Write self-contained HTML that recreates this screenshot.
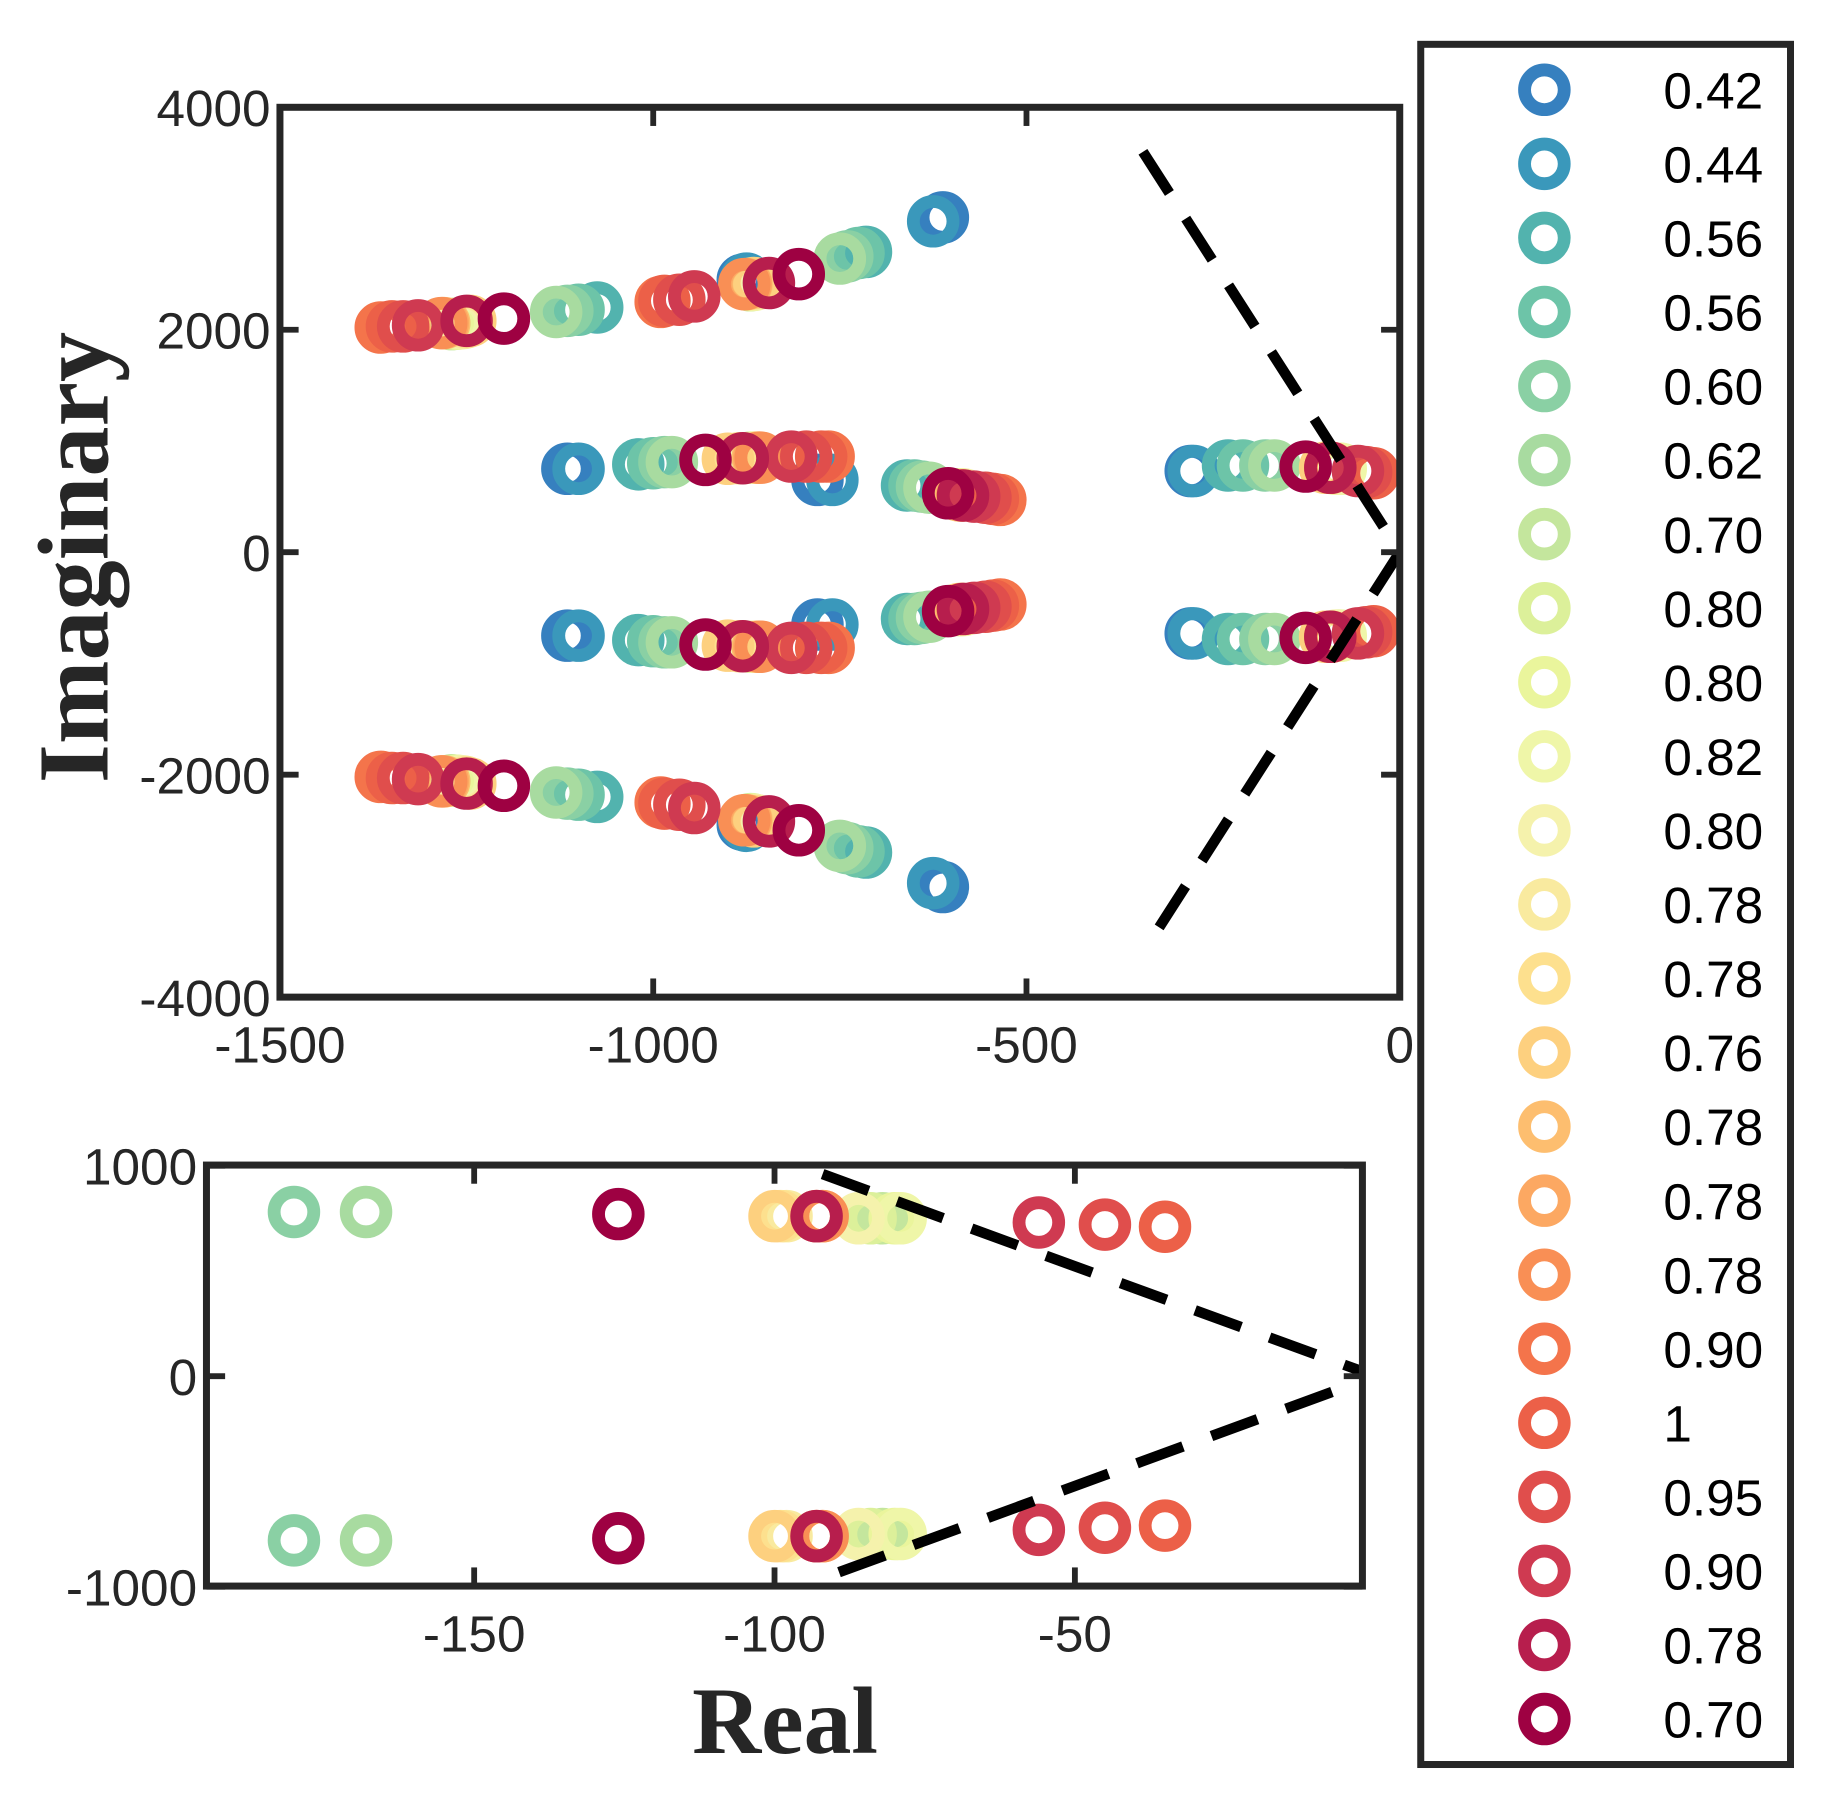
<!DOCTYPE html>
<html><head><meta charset="utf-8"><style>
html,body{margin:0;padding:0;background:#fff;overflow:hidden;width:1829px;height:1803px;}
svg{display:block;}
text{font-family:"Liberation Sans",sans-serif;}
</style></head><body>
<svg width="1829" height="1803" viewBox="0 0 1568 1546" preserveAspectRatio="none" xmlns="http://www.w3.org/2000/svg">
<defs>
<clipPath id="clipTop"><rect x="240" y="92" width="960" height="763"/></clipPath>
<clipPath id="clipBot"><rect x="177" y="999" width="991" height="361"/></clipPath>
</defs>
<g id="top"></g>
<g id="bot"></g>
<text x="0" y="0" transform="translate(92,478) rotate(-90)" text-anchor="middle" style="font-family:'Liberation Serif',serif;font-weight:bold;font-size:86px;fill:#262626">Imaginary</text>
<text x="673" y="1503" text-anchor="middle" style="font-family:'Liberation Serif',serif;font-weight:bold;font-size:82px;fill:#262626">Real</text>
<g id="legend"></g>
</svg>
<script>
const NS="http://www.w3.org/2000/svg";
const seriesLabels=["0.42","0.44","0.56","0.56","0.60","0.62","0.70","0.80","0.80","0.82","0.80","0.78","0.78","0.76","0.78","0.78","0.78","0.90","1","0.95","0.90","0.78","0.70"];
const seriesColors=["#3680bf","#3a98bb","#52b3ae","#6dc4a8","#8ad0a4","#a8dba0","#c4e69d","#dcf09a","#eaf59c","#eff6a8","#f5f2ac","#f9ea9f","#fde08e","#fdd07f","#fdbe6f","#fca862","#f98f55","#f4744b","#ec6048","#e04e4c","#cf3a51","#b71e4d","#9e0142"];
// pole pairs (upper half, mirrored): 5 poles per series
const poleReal=[
 [-612,-880,-1115,-780,-280],
 [-625,-875,-1100,-760,-276],
 [-715,-1075,-1020,-660,-230],
 [-725,-1100,-1000,-650,-210],
 [-740,-1115,-985,-640,-180],
 [-750,-1130,-975,-630,-168],
 [-870,-1270,-870,-590,-82],
 [-868,-1265,-868,-590,-84],
 [-866,-1262,-866,-588,-80],
 [-864,-1258,-864,-586,-79],
 [-862,-1255,-862,-584,-86],
 [-866,-1252,-880,-590,-98],
 [-868,-1250,-885,-592,-99],
 [-865,-1245,-900,-590,-100],
 [-875,-1280,-860,-588,-93],
 [-876,-1282,-858,-586,-92],
 [-878,-1284,-856,-584,-92],
 [-990,-1365,-765,-535,-93],
 [-985,-1350,-775,-545,-35],
 [-965,-1335,-795,-555,-45],
 [-945,-1315,-815,-570,-56],
 [-845,-1250,-880,-585,-93],
 [-805,-1200,-930,-605,-126]];
const poleImag=[
 [3010,2450,750,650,730],
 [2975,2460,750,650,730],
 [2700,2200,790,600,780],
 [2690,2180,800,600,780],
 [2660,2170,810,590,780],
 [2640,2160,810,580,780],
 [2400,2050,850,520,750],
 [2400,2055,850,520,750],
 [2405,2055,850,520,750],
 [2405,2060,850,520,750],
 [2410,2060,850,520,750],
 [2410,2065,845,515,760],
 [2415,2070,845,515,760],
 [2420,2080,840,510,760],
 [2410,2060,850,510,760],
 [2410,2060,850,510,760],
 [2410,2060,850,510,760],
 [2250,2020,860,470,760],
 [2260,2030,860,480,710],
 [2270,2030,860,490,720],
 [2300,2040,860,500,730],
 [2420,2080,845,510,760],
 [2500,2100,830,530,770]];
const topXTicks=[-1500,-1000,-500,0];
const topYTicks=[4000,2000,0,-2000,-4000];
const botXTicks=[-150,-100,-50];
const botYTicks=[1000,0,-1000];
const topDash=[[-344,3600],[0,0],[-344,-3600]];
const botDash=[[-92,960],[0,0],[-92,-960]];

function mk(tag,attrs,parent){const e=document.createElementNS(NS,tag);for(const k in attrs)e.setAttribute(k,attrs[k]);parent.appendChild(e);return e;}
const AX="#262626";
function drawAxes(g,clip,L,T,R,B,xs,ys,xTicks,yTicks,xLab,yLab,dash){
  const pts=mk('g',{'clip-path':'url(#'+clip+')'},g);
  
  
  for(let s=0;s<seriesColors.length;s++){
    const sg=mk('g',{},pts);
    
    
    for(let p=0;p<poleReal[s].length;p++){
      for(const sign of [1,-1]){
        const c=mk('circle',{cx:xs(poleReal[s][p]),cy:ys(sign*poleImag[s][p]),r:17,fill:'none',stroke:seriesColors[s],'stroke-width':11},sg);
        
        
      }
    }
  }
  const d=mk('polyline',{points:dash.map(q=>xs(q[0])+','+ys(q[1])).join(' '),fill:'none',stroke:'#000','stroke-width':9,'stroke-dasharray':'42 26','clip-path':'url(#'+clip+')'},g);
  
  
  const fr=mk('rect',{x:L,y:T,width:R-L,height:B-T,fill:'none',stroke:AX,'stroke-width':6},g);
  
  
  xTicks.forEach(v=>{const x=xs(v);
    mk('line',{x1:x,x2:x,y1:B,y2:B-16,stroke:AX,'stroke-width':5},g);
    mk('line',{x1:x,x2:x,y1:T,y2:T+16,stroke:AX,'stroke-width':5},g);
    const t=mk('text',{x:x,y:B+56,'text-anchor':'middle','font-size':44,fill:AX},g);t.textContent=xLab(v);
    
    });
  yTicks.forEach(v=>{const y=ys(v);
    mk('line',{x1:L,x2:L+16,y1:y,y2:y,stroke:AX,'stroke-width':5},g);
    mk('line',{x1:R,x2:R-16,y1:y,y2:y,stroke:AX,'stroke-width':5},g);
    const t=mk('text',{x:L-8,y:y+16,'text-anchor':'end','font-size':44,fill:AX},g);t.textContent=yLab(v);
    
    });
}
const tL=240,tR=1200,tT=92,tB=855;
const txs=v=>tL+(v+1500)/1500*(tR-tL);
const tys=v=>tT+(4000-v)/8000*(tB-tT);
drawAxes(document.getElementById('top'),'clipTop',tL,tT,tR,tB,txs,tys,topXTicks,topYTicks,String,String,topDash);
const bL=177,bR=1168,bT=999,bB=1360;
const bxs=v=>664+(v+100)*5.15;
const bys=v=>1180-v*0.1805;
drawAxes(document.getElementById('bot'),'clipBot',bL,bT,bR,bB,bxs,bys,botXTicks,botYTicks,String,String,botDash);
const lg=document.getElementById('legend');
const lr=mk('rect',{x:1218,y:38,width:317,height:1475,fill:'#fff',stroke:AX,'stroke-width':6},lg);


seriesLabels.forEach((lab,i)=>{
  const y=77+i*63.5;
  const g=mk('g',{},lg);
  
  
  mk('circle',{cx:1324,cy:y,r:17,fill:'none',stroke:seriesColors[i],'stroke-width':11},g);
  const t=mk('text',{x:1426,y:y+16,'font-size':44,fill:'#000'},g);t.textContent=lab;
});
</script>
</body></html>
